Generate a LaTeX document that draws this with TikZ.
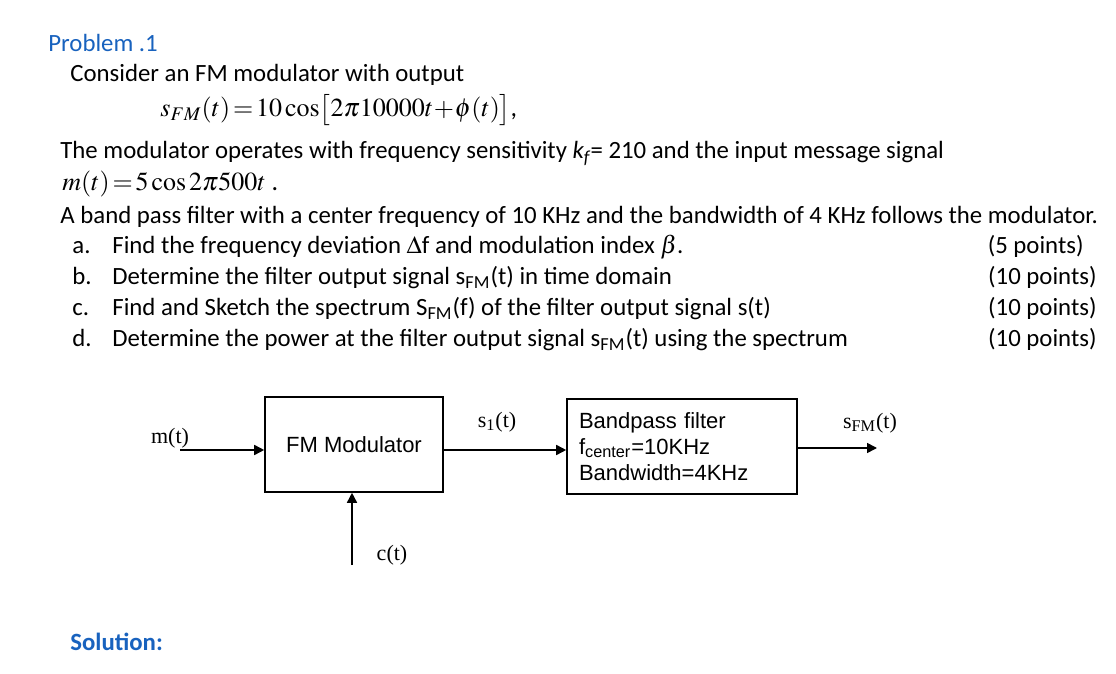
\documentclass[tikz,border=0pt]{standalone}
\usepackage{mathptmx}
\usepackage{fontspec}
\setmainfont{Carlito}
\newfontfamily\arialf{Liberation Sans}
\newfontfamily\timesf{Liberation Serif}
\usetikzlibrary{arrows.meta}
\definecolor{probblue}{RGB}{24,98,190}

\begin{document}
\begin{tikzpicture}[x=0.5pt, y=-0.5pt, >={Triangle[length=5pt,width=5pt]},
    txt/.style={anchor=base west, inner sep=0pt, font=\fontsize{12.4}{14}\selectfont},
    pts/.style={anchor=base east, inner sep=0pt, font=\fontsize{12.4}{14}\selectfont},
    blk/.style={draw, thick, inner sep=0pt, font=\arialf\fontsize{11}{13}\selectfont},
    sig/.style={inner sep=0pt, font=\timesf\fontsize{11}{13}\selectfont}]
    \useasboundingbox (0,0) rectangle (1116,674);

    % heading
    \node[txt, text=probblue] (head) at (48,52) {Problem .1};
    \node[txt] (l1) at (70,82) {Consider an FM modulator with output};
    \node[txt, font=\fontsize{13}{15}\selectfont] (eq1) at (160,117)
        {$s_{FM}(t)\!=\!10\cos\bigl[2\pi10000t\!+\!\phi(t)\bigr]$,};
    \node[txt] (l2) at (60,159) {The modulator operates with frequency sensitivity \textit{k\textsubscript{f}}= 210 and the input message signal};
    \node[txt, font=\fontsize{13}{15}\selectfont] (eq2) at (62,191) {$m(t)\!=\!5\cos 2\pi500t$ .};
    \node[txt] (l3) at (60,224) {A band pass filter with a center frequency of 10 KHz and the bandwidth of 4 KHz follows the modulator.};

    % questions
    \node[txt] (qa) at (72,254) {a.};
    \node[txt] (ta) at (112,254) {Find the frequency deviation $\Delta$f and modulation index $\beta$.};
    \node[pts] (pa) at (1084,254) {(5 points)};
    \node[txt] (qb) at (72,285) {b.};
    \node[txt] (tb) at (112,285) {Determine the filter output signal s\textsubscript{FM}(t) in time domain};
    \node[pts] (pb) at (1097,285) {(10 points)};
    \node[txt] (qc) at (72,316) {c.};
    \node[txt] (tc) at (112,316) {Find and Sketch the spectrum S\textsubscript{FM}(f) of the filter output signal s(t)};
    \node[pts] (pc) at (1097,316) {(10 points)};
    \node[txt] (qd) at (72,347) {d.};
    \node[txt] (td) at (112,347) {Determine the power at the filter output signal s\textsubscript{FM}(t) using the spectrum};
    \node[pts] (pd) at (1097,347) {(10 points)};

    % block diagram
    \node[blk, minimum width=89pt, minimum height=47.5pt] (mod) at (354,444.5) {FM Modulator};
    \node[blk, text width=103pt, inner xsep=6pt, minimum height=47.5pt, align=left] (bpf) at (682,446.5)
        {Bandpass filter\\f\textsubscript{center}=10KHz\\Bandwidth=4KHz};
    \coordinate (min) at (180,450);
    \coordinate (cin) at (352,565);
    \coordinate (out) at (877,448);
    \draw[thick, ->] (min) -- (mod.west |- min);
    \draw[thick, ->] (cin) -- (mod.south -| cin);
    \draw[thick, ->] (mod.east |- 0,450) -- (bpf.west |- 0,450);
    \draw[thick, ->] (bpf.east |- out) -- (out);
    \node[sig] (mlab) at (170,438) {m(t)};
    \node[sig] (slab) at (497,422) {s\textsubscript{1}(t)};
    \node[sig] (olab) at (870,423) {s\textsubscript{FM}(t)};
    \node[sig] (clab) at (392,555) {c(t)};

    % solution
    \node[txt, text=probblue, font=\bfseries\fontsize{12.4}{14}\selectfont] (sol) at (70,650) {Solution:};
\end{tikzpicture}
\end{document}
